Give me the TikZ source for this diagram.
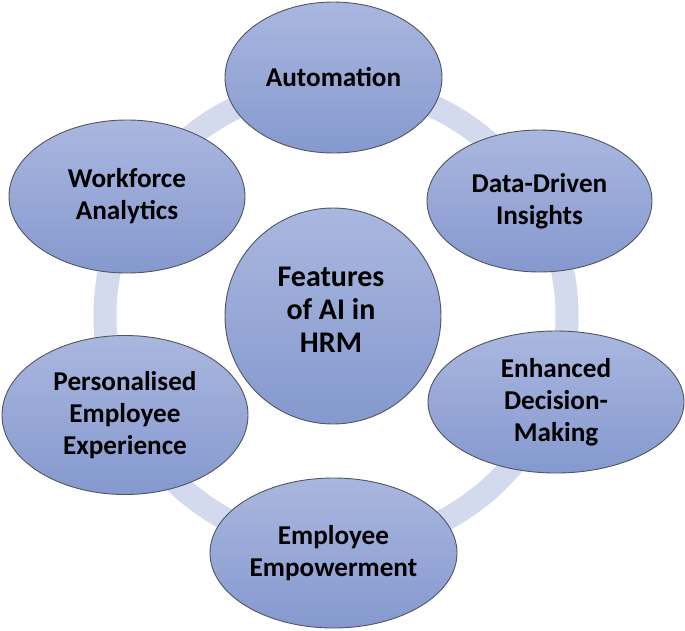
\documentclass[tikz,border=0pt]{standalone}
\usepackage{fontspec}
\setmainfont{Carlito}
\usetikzlibrary{shapes.geometric}
\definecolor{ringc}{HTML}{D4DAEE}
\definecolor{topc}{HTML}{AAB7DF}
\definecolor{botc}{HTML}{8599CF}
\definecolor{edgec}{HTML}{50555F}
\tikzset{
  bubble/.style={ellipse, draw=edgec, line width=0.9pt, top color=topc, bottom color=botc,
    inner sep=0pt, align=center, text=black,
    font=\fontsize{27.2}{32}\selectfont\bfseries},
  hubstyle/.style={bubble, circle},
  hubtextstyle/.style={align=center, inner sep=0pt, text=black,
    font=\fontsize{30}{33}\selectfont\bfseries},
  ringstyle/.style={draw=ringc, line width=23pt}
}
\begin{document}
\begin{tikzpicture}[x=1pt,y=-1pt]
\useasboundingbox (0,0) rectangle (685,630);
\coordinate (mid) at (336,316);
\draw[ringstyle] (mid) circle[radius=231pt];
\node[hubstyle, minimum size=216pt] (hub) at (333,316) {};
\node[hubtextstyle] (hubtext) at (331,310) {Features\\of AI in\\HRM};
\node[bubble, minimum width=217pt, minimum height=151pt] (auto) at (333.5,77.5) {Automation};
\node[bubble, minimum width=225pt, minimum height=142pt] (data) at (539.5,201) {Data-Driven\\Insights};
\node[bubble, minimum width=256pt, minimum height=142pt] (dec) at (556,402) {Enhanced\\Decision-\\Making};
\node[bubble, minimum width=247pt, minimum height=150pt] (emp) at (333.5,553) {Employee\\Empowerment};
\node[bubble, minimum width=246pt, minimum height=159pt] (pers) at (125,415) {Personalised\\Employee\\Experience};
\node[bubble, minimum width=236pt, minimum height=153pt] (work) at (127,196.5) {Workforce\\Analytics};
\end{tikzpicture}
\end{document}
